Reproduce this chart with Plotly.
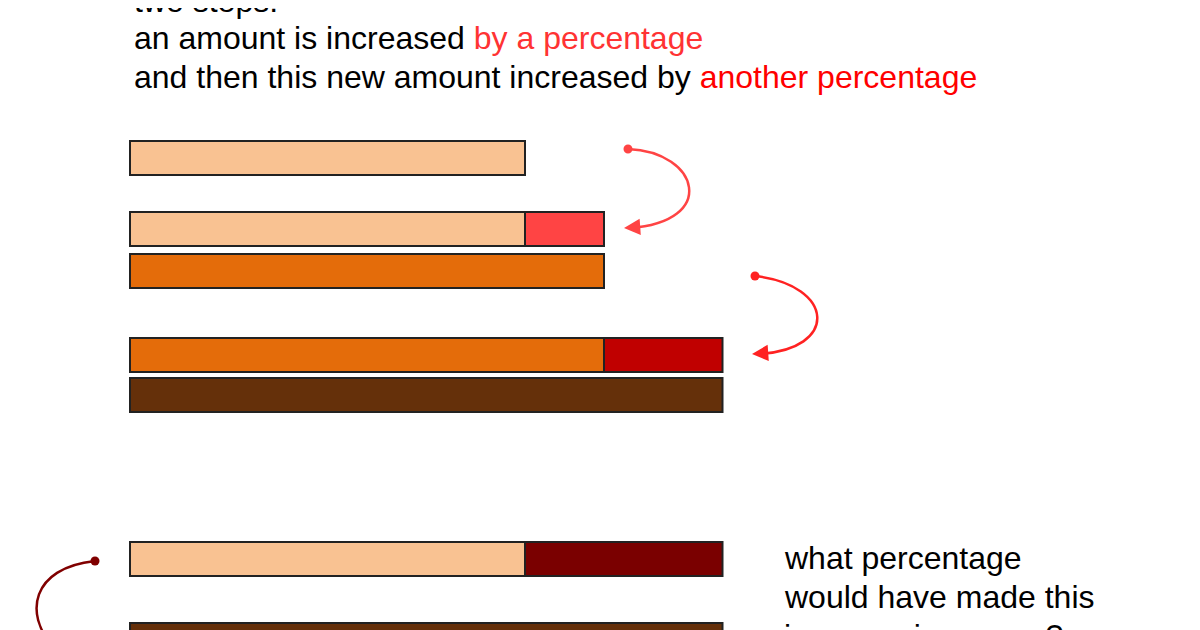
import plotly.graph_objects as go

# amounts (base = 100), step increases in percent
base = 100
step1_pct = 20
step2_pct = 25

amount1 = base * (1 + step1_pct / 100)
amount2 = amount1 * (1 + step2_pct / 100)

light = "#f9c292"
red = "#ff4444"
orange = "#e46c0a"
darkred = "#c00000"
brown = "#65300a"
maroon = "#7a0000"

W, H = 1200, 630
OFF = 8           # page offset of the plot in the browser
X0 = 130          # left edge of bars in px
SCALE = 3.95      # px per unit

# (row centre px, start value, length, colour)
rows = [
    (158, 0, base, light),
    (229, 0, base, light),
    (229, base, amount1 - base, red),
    (271, 0, amount1, orange),
    (355, 0, amount1, orange),
    (355, amount1, amount2 - amount1, darkred),
    (395, 0, amount2, brown),
    (559, 0, base, light),
    (559, base, amount2 - base, maroon),
    (640, 0, amount2, brown),
]

fig = go.Figure()
for yc, start, length, col in rows:
    fig.add_trace(go.Bar(
        x=[length], y=[yc], base=[start], orientation="h", width=34,
        marker=dict(color=col, line=dict(color="#222222", width=2)),
        showlegend=False, hoverinfo="skip"))

fig.update_xaxes(range=[-(X0 - OFF) / SCALE, (W - X0 + OFF) / SCALE], visible=False)
fig.update_yaxes(range=[H + OFF, OFF], visible=False)


def px(x, y):
    return (x - OFF) / W, 1 - (y - OFF) / H


def path(pts, col):
    (a, b), (c, d), (e, f), (g, h) = [px(*p) for p in pts]
    fig.add_shape(type="path", xref="paper", yref="paper",
                  path=f"M {a},{b} C {c},{d} {e},{f} {g},{h}",
                  line=dict(color=col, width=2.5))
    fig.add_shape(type="circle", xref="paper", yref="paper",
                  x0=a - 4.5 / W, x1=a + 4.5 / W, y0=b - 4.5 / H, y1=b + 4.5 / H,
                  fillcolor=col, line=dict(color=col, width=0))


path([(628, 149), (700, 152), (718, 222), (630, 228)], "#ff4444")
path([(755, 276), (835, 285), (840, 350), (758, 354)], "#ff2222")
path([(95, 561), (30, 568), (25, 615), (52, 645)], "#800000")

for x, y, col in [(624, 228, "#ff4444"), (752, 354, "#ff2222")]:
    xp, yp = px(x, y)
    fig.add_annotation(x=xp, y=yp, xref="paper", yref="paper", ax=14, ay=-1,
                       text="", showarrow=True, arrowhead=2, arrowsize=1.3,
                       arrowwidth=2.5, arrowcolor=col)

font = dict(family="Liberation Sans, Arial", size=32, color="black")
lines = [
    (1, "two steps:"),
    (38, "an amount is increased <span style='color:#ff3333'>by a percentage</span>"),
    (77, "and then this new amount increased by <span style='color:#ff0000'>another percentage</span>"),
]
for y, t in lines:
    xp, yp = px(132, y)
    fig.add_annotation(x=xp, y=yp, xref="paper", yref="paper", text=t, showarrow=False,
                       xanchor="left", yanchor="middle", font=font)

for y, t in [(558, "what percentage"), (597, "would have made this"), (636, "increase in one go?")]:
    xp, yp = px(782, y)
    fig.add_annotation(x=xp, y=yp, xref="paper", yref="paper", text=t, showarrow=False,
                       xanchor="left", yanchor="middle", font=font)

fig.update_layout(width=W, height=H, margin=dict(l=0, r=0, t=0, b=0),
                  plot_bgcolor="white", paper_bgcolor="white", barmode="overlay")

fig.write_html("out.html")
